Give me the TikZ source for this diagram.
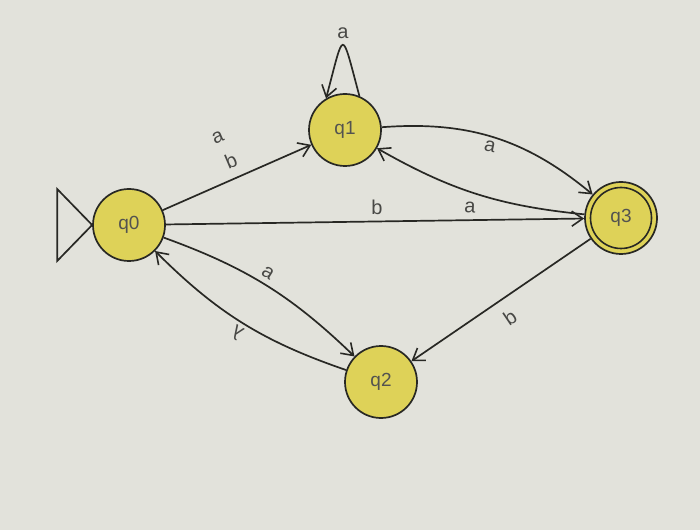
\documentclass[tikz,border=0pt]{standalone}
\usepackage{fontspec}
\setmainfont{Liberation Sans}
\usetikzlibrary{arrows.meta}
\definecolor{bgc}{RGB}{226,226,219}
\definecolor{statefill}{RGB}{222,210,88}
\definecolor{ink}{RGB}{40,40,36}
\tikzset{
  state/.style={circle, draw=ink, line width=1.7pt, fill=statefill, minimum size=72pt, inner sep=0pt, font=\fontsize{19}{22}\selectfont, text=ink!80},
  edge/.style={draw=ink, line width=1.7pt, -{Straight Barb[length=11pt,width=15pt,line width=1.6pt]}},
  lbl/.style={font=\fontsize{20}{24}\selectfont, text=ink!85, inner sep=0pt}
}
\begin{document}
\begin{tikzpicture}[x=1pt,y=1pt]
\fill[bgc] (0,0) rectangle (700,530);
\useasboundingbox (0,0) rectangle (700,530);

\node[state] (q0) at (129,305) {q0};
\node[state] (q1) at (345,400) {q1};
\node[state] (q3) at (621,312) {q3};
\node[state] (q2) at (381,148) {q2};
\draw[ink, line width=1.6pt] (q3.center) circle (30.5pt);

% initial marker
\draw[ink, line width=1.7pt] (q0.west) -- ++(-35,36) -- ++(0,-72) -- cycle;

% edges
\draw[edge] (q0) -- (q1);
\draw[edge] (q0) -- (q3);
\draw[edge] (q1) to[bend left=22] (q3);
\draw[edge] (q3) to[bend left=12] (q1);
\draw[edge] (q0) to[bend left=12] (q2);
\draw[edge] (q2) to[bend left=13] (q0);
\draw[edge] (q3) -- (q2);
\draw[edge] (q1.67) .. controls +(105:72) and +(75:72) .. (q1.121);

% labels
\node[lbl, rotate=23] (la1) at (218,393) {a};
\node[lbl, rotate=23] (lb1) at (231,369) {b};
\node[lbl] (lb2) at (377,323) {b};
\node[lbl, rotate=-12] (la3) at (490,384) {a};
\node[lbl, rotate=-3] (la4) at (470,322) {a};
\node[lbl, rotate=-32] (la5) at (268,257) {a};
\node[lbl, rotate=148] (llam) at (237,197) {λ};
\node[lbl, rotate=34] (lb6) at (510,213) {b};
\node[lbl] (laloop) at (343,497) {a};
\end{tikzpicture}
\end{document}
